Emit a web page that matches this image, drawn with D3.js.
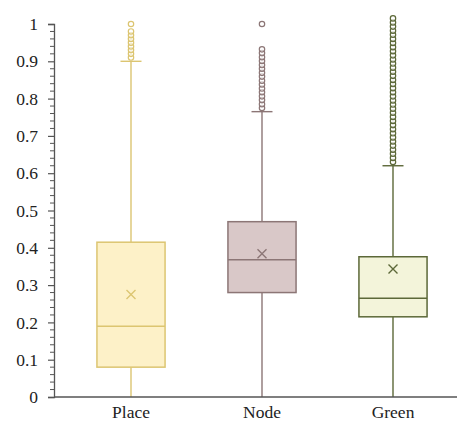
<!DOCTYPE html>
<html>
<head>
<meta charset="utf-8">
<script src="https://cdn.jsdelivr.net/npm/d3@7"></script>
<style>
  body { margin: 0; background: #fff; }
  text { font-family: "Liberation Serif", "DejaVu Serif", serif; fill: #222; }
</style>
</head>
<body>
<div id="chart"></div>
<script>
{
	// categories and box statistics
	const categories = ["Place", "Node", "Green"];
	const q1 = [0.08, 0.28, 0.215];
	const median = [0.19, 0.368, 0.265];
	const q3 = [0.415, 0.47, 0.376];
	const mean = [0.275, 0.384, 0.343];
	const whiskerLow = [0, 0, 0];
	const whiskerHigh = [0.9, 0.765, 0.62];

	const outliersPlace = [0.91, 0.92, 0.93, 0.94, 0.95, 0.96, 0.97, 0.98, 1.0];
	const outliersNode = [0.775, 0.785, 0.796, 0.806, 0.817, 0.827, 0.838, 0.848,
		0.859, 0.869, 0.88, 0.89, 0.901, 0.911, 0.922, 0.932, 1.0];
	const outliersGreen = [0.63, 0.641, 0.652, 0.663, 0.674, 0.685, 0.696, 0.707,
		0.718, 0.729, 0.74, 0.751, 0.762, 0.773, 0.784, 0.795, 0.806, 0.817, 0.828,
		0.839, 0.85, 0.861, 0.872, 0.883, 0.894, 0.905, 0.916, 0.927, 0.938, 0.949,
		0.96, 0.971, 0.982, 0.993, 1.004, 1.015];
	const outliers = [outliersPlace, outliersNode, outliersGreen];

	const yTicks = [0, 0.1, 0.2, 0.3, 0.4, 0.5, 0.6, 0.7, 0.8, 0.9, 1];
	const yTickLabels = ["0", "0.1", "0.2", "0.3", "0.4", "0.5", "0.6", "0.7", "0.8", "0.9", "1"];

	const fills = ["#fdf1c8", "#d9c8c8", "#f3f4da"];
	const strokes = ["#dcc571", "#8c7676", "#5c6838"];

	const width = 474, height = 438;

	const svg = d3.select("#chart").append("svg")
		.attr("width", width)
		.attr("height", height);

	const x = d3.scaleBand()
		.domain(categories)
		.range([65.5, 458.5])
		.paddingInner(0.48)
		.paddingOuter(0.24);

	const y = d3.scaleLinear()
		.domain([0, 1])
		.range([397, 24]);

	// y axis, major ticks
	const yAxis = d3.axisLeft(y)
		.tickValues(yTicks)
		.tickFormat((d, i) => yTickLabels[i])
		.tickSize(6)
		.tickPadding(10);

	const gy = svg.append("g")
		.attr("transform", "translate(54,0)")
		.call(yAxis);
	gy.attr("font-family", null).attr("font-size", null);
	gy.select(".domain").attr("stroke", "#555").attr("stroke-width", 1.3);
	gy.selectAll(".tick line").attr("stroke", "#555").attr("stroke-width", 1.2);
	gy.selectAll(".tick text")
		.style("font-size", "17.5px")
		.style("font-family", "'Liberation Serif', serif")
		.attr("fill", "#222");

	// minor ticks
	const minor = d3.range(0, 1.001, 0.02).filter((d) => Math.round(d * 100) % 10 !== 0);
	svg.append("g")
		.selectAll("line")
		.data(minor)
		.join("line")
		.attr("x1", 50)
		.attr("x2", 54)
		.attr("y1", (d) => y(d))
		.attr("y2", (d) => y(d))
		.attr("stroke", "#555")
		.attr("stroke-width", 1);

	// x axis
	const xAxis = d3.axisBottom(x).tickSize(0).tickPadding(9);
	const gx = svg.append("g")
		.attr("transform", `translate(0,${y(0)})`)
		.call(xAxis);
	gx.attr("font-family", null).attr("font-size", null);
	gx.select(".domain").remove();
	gx.selectAll(".tick text")
		.style("font-size", "17.5px")
		.style("font-family", "'Liberation Serif', serif")
		.attr("fill", "#222");

	const boxes = svg.append("g");
	categories.forEach((c, i) => {
		const cx = x(c) + x.bandwidth() / 2;
		const g = boxes.append("g");
		const col = strokes[i];

		// whiskers
		g.append("line")
			.attr("x1", cx).attr("x2", cx)
			.attr("y1", y(whiskerHigh[i])).attr("y2", y(q3[i]))
			.attr("stroke", col).attr("stroke-width", 1.4);
		g.append("line")
			.attr("x1", cx).attr("x2", cx)
			.attr("y1", y(q1[i])).attr("y2", y(whiskerLow[i]))
			.attr("stroke", col).attr("stroke-width", 1.4);
		g.append("line")
			.attr("x1", cx - 10.5).attr("x2", cx + 10.5)
			.attr("y1", y(whiskerHigh[i])).attr("y2", y(whiskerHigh[i]))
			.attr("stroke", col).attr("stroke-width", 1.4);

		// box
		g.append("rect")
			.attr("x", x(c))
			.attr("y", y(q3[i]))
			.attr("width", x.bandwidth())
			.attr("height", y(q1[i]) - y(q3[i]))
			.attr("fill", fills[i])
			.attr("stroke", col)
			.attr("stroke-width", 1.5);
		g.append("line")
			.attr("x1", x(c)).attr("x2", x(c) + x.bandwidth())
			.attr("y1", y(median[i])).attr("y2", y(median[i]))
			.attr("stroke", col).attr("stroke-width", 1.5);

		// mean marker
		const my = y(mean[i]), s = 4.5;
		g.append("path")
			.attr("d", `M${cx - s},${my - s}L${cx + s},${my + s}M${cx - s},${my + s}L${cx + s},${my - s}`)
			.attr("stroke", col).attr("stroke-width", 1.4).attr("fill", "none");

		// outliers
		g.append("g")
			.selectAll("circle")
			.data(outliers[i])
			.join("circle")
			.attr("cx", cx)
			.attr("cy", (d) => y(d))
			.attr("r", 2.7)
			.attr("fill", "#fff")
			.attr("fill-opacity", 0.6)
			.attr("stroke", col)
			.attr("stroke-width", 1.2);
	});

	// x axis line drawn last over whisker ends
	svg.append("line")
		.attr("x1", 54).attr("x2", 457)
		.attr("y1", y(0)).attr("y2", y(0))
		.attr("stroke", "#555").attr("stroke-width", 1.4);
}
</script>
</body>
</html>
